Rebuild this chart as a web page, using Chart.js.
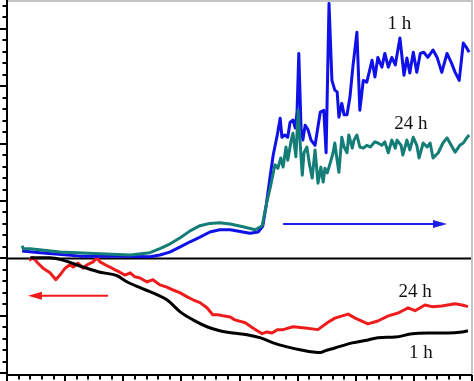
<!DOCTYPE html>
<html>
<head>
<meta charset="utf-8">
<script src="https://cdn.jsdelivr.net/npm/chart.js@4.4.1/dist/chart.umd.min.js"></script>
<style>
  html, body { margin: 0; padding: 0; background: #fff; }
  canvas { display: block; }
</style>
</head>
<body>
<canvas id="chart" width="474" height="381"></canvas>
<script>
// upper curves
const blue1hX = [0.26, 0.57, 1.26, 1.94, 2.46, 2.63, 2.80, 2.98, 3.15, 3.32, 3.49, 3.66, 3.84, 4.01, 4.18, 4.32, 4.40, 4.46, 4.53, 4.58, 4.65, 4.70, 4.73, 4.78, 4.83, 4.87, 4.92, 4.96, 4.99, 5.02, 5.06, 5.09, 5.13, 5.18, 5.23, 5.30, 5.39, 5.45, 5.49, 5.54, 5.59, 5.64, 5.68, 5.71, 5.76, 5.80, 5.85, 5.90, 5.95, 6.02, 6.07, 6.13, 6.19, 6.28, 6.33, 6.38, 6.45, 6.50, 6.56, 6.62, 6.68, 6.76, 6.83, 6.88, 6.93, 6.99, 7.05, 7.11, 7.17, 7.24, 7.33, 7.40, 7.48, 7.57, 7.64, 7.71, 7.78, 7.85, 7.90, 7.95];
const blue1hY = [0.13, 0.10, 0.04, 0.04, 0.03, 0.06, 0.11, 0.20, 0.29, 0.37, 0.46, 0.50, 0.50, 0.47, 0.44, 0.46, 0.56, 0.93, 1.45, 1.80, 2.15, 2.44, 2.11, 2.15, 2.11, 2.37, 2.41, 2.27, 2.55, 3.57, 2.24, 2.06, 2.32, 2.24, 2.06, 1.97, 2.55, 2.58, 1.84, 4.44, 3.10, 2.93, 2.90, 2.46, 2.70, 2.50, 2.50, 2.81, 3.33, 3.94, 2.58, 3.10, 3.07, 3.45, 3.16, 3.50, 3.33, 3.57, 3.33, 3.50, 3.37, 3.84, 3.19, 3.49, 3.23, 3.59, 3.24, 3.57, 3.59, 3.50, 3.63, 3.50, 3.24, 3.57, 3.42, 3.24, 3.10, 3.75, 3.68, 3.59];

const teal24hX = [0.26, 0.28, 0.40, 0.91, 1.60, 2.12, 2.46, 2.63, 2.80, 2.98, 3.15, 3.32, 3.49, 3.66, 3.84, 4.06, 4.27, 4.39, 4.46, 4.53, 4.61, 4.66, 4.71, 4.75, 4.80, 4.83, 4.89, 4.92, 4.97, 5.01, 5.04, 5.08, 5.11, 5.16, 5.20, 5.25, 5.30, 5.35, 5.40, 5.44, 5.47, 5.51, 5.56, 5.61, 5.64, 5.68, 5.71, 5.76, 5.80, 5.85, 5.88, 5.94, 5.97, 6.02, 6.07, 6.13, 6.19, 6.25, 6.33, 6.38, 6.45, 6.50, 6.56, 6.62, 6.68, 6.71, 6.78, 6.81, 6.88, 6.93, 6.99, 7.05, 7.09, 7.16, 7.23, 7.28, 7.33, 7.42, 7.50, 7.57, 7.62, 7.71, 7.79, 7.85, 7.91, 7.95];
const teal24hY = [0.22, 0.17, 0.17, 0.11, 0.08, 0.06, 0.10, 0.17, 0.25, 0.36, 0.48, 0.57, 0.61, 0.62, 0.60, 0.55, 0.50, 0.57, 0.93, 1.24, 1.63, 1.57, 1.75, 1.59, 1.94, 1.71, 2.06, 2.18, 1.77, 2.58, 2.06, 1.45, 1.84, 1.94, 1.66, 1.40, 1.89, 1.31, 1.59, 1.33, 1.57, 1.49, 1.66, 1.84, 2.01, 1.71, 1.50, 2.11, 1.94, 1.84, 2.15, 1.92, 2.06, 2.15, 1.94, 1.92, 1.97, 1.94, 2.03, 2.01, 1.97, 2.03, 1.84, 2.06, 1.92, 2.06, 1.97, 1.80, 2.06, 1.89, 2.11, 1.97, 1.75, 2.01, 1.94, 2.01, 1.75, 1.84, 2.01, 2.10, 2.01, 1.85, 1.97, 2.01, 2.10, 2.15];

// lower curves
const red24hX = [0.38, 0.45, 0.53, 0.62, 0.74, 0.84, 0.91, 1.00, 1.08, 1.14, 1.22, 1.31, 1.38, 1.48, 1.55, 1.60, 1.69, 1.77, 1.86, 1.94, 2.03, 2.12, 2.20, 2.29, 2.41, 2.51, 2.63, 2.75, 2.86, 2.98, 3.10, 3.20, 3.32, 3.44, 3.54, 3.63, 3.72, 3.84, 3.92, 4.10, 4.23, 4.39, 4.47, 4.56, 4.65, 4.75, 4.92, 5.13, 5.35, 5.51, 5.64, 5.87, 5.99, 6.21, 6.38, 6.56, 6.73, 6.90, 7.02, 7.19, 7.31, 7.48, 7.71, 7.83, 7.93];
const red24hY = [-0.03, 0.01, -0.08, -0.17, -0.25, -0.37, -0.29, -0.17, -0.11, -0.15, -0.08, -0.17, -0.11, -0.06, 0.01, -0.06, -0.11, -0.15, -0.20, -0.24, -0.29, -0.25, -0.32, -0.34, -0.41, -0.37, -0.46, -0.50, -0.55, -0.60, -0.67, -0.72, -0.77, -0.86, -0.98, -0.98, -1.00, -1.02, -1.07, -1.12, -1.21, -1.31, -1.28, -1.30, -1.24, -1.24, -1.19, -1.21, -1.24, -1.12, -1.04, -0.97, -1.04, -1.14, -1.09, -1.00, -0.95, -0.86, -0.91, -0.81, -0.84, -0.83, -0.79, -0.81, -0.84];

const black1hX = [0.40, 0.74, 0.96, 1.31, 1.60, 1.89, 2.07, 2.29, 2.51, 2.75, 2.98, 3.20, 3.44, 3.66, 3.89, 4.13, 4.35, 4.58, 4.82, 5.04, 5.27, 5.39, 5.47, 5.64, 5.94, 6.21, 6.38, 6.68, 6.97, 7.24, 7.59, 7.83, 7.93];
const black1hY = [0.01, 0.01, -0.03, -0.15, -0.24, -0.30, -0.41, -0.51, -0.60, -0.72, -0.93, -1.07, -1.19, -1.26, -1.30, -1.33, -1.38, -1.47, -1.54, -1.59, -1.63, -1.64, -1.61, -1.56, -1.47, -1.42, -1.38, -1.37, -1.31, -1.30, -1.30, -1.28, -1.26];

// axis ranges and ticks
const xRange = [0, 8];
const yRange = [-2.03, 4.5];
const xMajorTicks = [0, 1, 2, 3, 4, 5, 6, 7, 8];
const yMajorTicks = [-2, -1, 0, 1, 2, 3, 4];
const minorStep = 0.2;

// arrows: [xFrom, xTo, y]
const blueArrow = [4.75, 7.57, 0.60];
const redArrow = [1.74, 0.36, -0.65];

// labels: [text, x, y]
const curveLabels = [
    ["1 h", 6.75, 4.0],
    ["24 h", 6.95, 2.25],
    ["24 h", 7.02, -0.67],
    ["1 h", 7.12, -1.73]
];

function toPoints(xs, ys) {
    return xs.map((x, i) => ({ x: x, y: ys[i] }));
}

function minorTicks(min, max) {
    const out = [];
    for (let v = Math.ceil(min / minorStep) * minorStep; v <= max + 1e-9; v += minorStep) {
        out.push(Math.round(v * 10) / 10);
    }
    return out;
}

const framePlugin = {
    id: 'frame',
    beforeDatasetsDraw(chart) {
        const { ctx, chartArea: a, scales: { y } } = chart;
        ctx.save();
        ctx.strokeStyle = '#000';
        ctx.lineWidth = 2;
        const y0 = y.getPixelForValue(0);
        ctx.beginPath();
        ctx.moveTo(a.left, y0);
        ctx.lineTo(a.right, y0);
        ctx.stroke();
        ctx.restore();
    },
    afterDatasetsDraw(chart) {
        const { ctx, chartArea: a, scales: { x, y } } = chart;
        ctx.save();

        // arrows
        function arrow(def, color) {
            const x1 = x.getPixelForValue(def[0]);
            const x2 = x.getPixelForValue(def[1]);
            const py = y.getPixelForValue(def[2]);
            const dir = x2 > x1 ? 1 : -1;
            ctx.strokeStyle = color;
            ctx.fillStyle = color;
            ctx.lineWidth = 2;
            ctx.beginPath();
            ctx.moveTo(x1, py);
            ctx.lineTo(x2 - dir * 8, py);
            ctx.stroke();
            ctx.beginPath();
            ctx.moveTo(x2, py);
            ctx.lineTo(x2 - dir * 14, py - 4);
            ctx.lineTo(x2 - dir * 14, py + 4);
            ctx.closePath();
            ctx.fill();
        }
        arrow(blueArrow, '#1f1fe6');
        arrow(redArrow, '#ef1b1b');

        // labels
        ctx.fillStyle = '#111';
        ctx.font = '19px "Liberation Serif", "Times New Roman", serif';
        ctx.textAlign = 'center';
        ctx.textBaseline = 'alphabetic';
        curveLabels.forEach(l => {
            ctx.fillText(l[0], x.getPixelForValue(l[1]), y.getPixelForValue(l[2]));
        });

        // frame: light top and right edges
        ctx.strokeStyle = '#c4c4c4';
        ctx.lineWidth = 2;
        ctx.beginPath();
        ctx.moveTo(a.left, a.top + 1);
        ctx.lineTo(a.right, a.top + 1);
        ctx.lineTo(a.right, a.bottom);
        ctx.stroke();

        // left and bottom axes
        ctx.strokeStyle = '#000';
        ctx.lineWidth = 2;
        ctx.beginPath();
        ctx.moveTo(a.left, a.top);
        ctx.lineTo(a.left, a.bottom);
        ctx.lineTo(a.right, a.bottom);
        ctx.stroke();

        // ticks
        ctx.lineWidth = 2;
        ctx.beginPath();
        minorTicks(yRange[0], yRange[1]).forEach(v => {
            const py = Math.round(y.getPixelForValue(v));
            const major = yMajorTicks.includes(v);
            ctx.moveTo(a.left - (major ? 7 : 4.5), py);
            ctx.lineTo(a.left, py);
        });
        minorTicks(xRange[0], xRange[1]).forEach(v => {
            const px = Math.round(x.getPixelForValue(v));
            const major = xMajorTicks.includes(v);
            ctx.moveTo(px, a.bottom);
            ctx.lineTo(px, a.bottom + (major ? 7 : 4.5));
        });
        ctx.stroke();
        ctx.restore();
    }
};

const lineStyle = { pointRadius: 0, borderWidth: 3, tension: 0, fill: false, borderJoinStyle: 'round' };

new Chart(document.getElementById('chart'), {
    type: 'line',
    data: {
        datasets: [
            Object.assign({ label: 'teal 24 h', data: toPoints(teal24hX, teal24hY), borderColor: '#147d78' }, lineStyle),
            Object.assign({ label: 'blue 1 h', data: toPoints(blue1hX, blue1hY), borderColor: '#1010e8' }, lineStyle),
            Object.assign({ label: 'black 1 h', data: toPoints(black1hX, black1hY), borderColor: '#000000' }, lineStyle, { cubicInterpolationMode: 'monotone' }),
            Object.assign({ label: 'red 24 h', data: toPoints(red24hX, red24hY), borderColor: '#ee1c1c' }, lineStyle)
        ]
    },
    options: {
        responsive: false,
        animation: false,
        layout: { padding: { left: 7, right: 2, top: 0, bottom: 6 } },
        plugins: { legend: { display: false }, tooltip: { enabled: false } },
        scales: {
            x: { type: 'linear', min: xRange[0], max: xRange[1], display: false },
            y: { type: 'linear', min: yRange[0], max: yRange[1], display: false }
        }
    },
    plugins: [framePlugin]
});
</script>
</body>
</html>
